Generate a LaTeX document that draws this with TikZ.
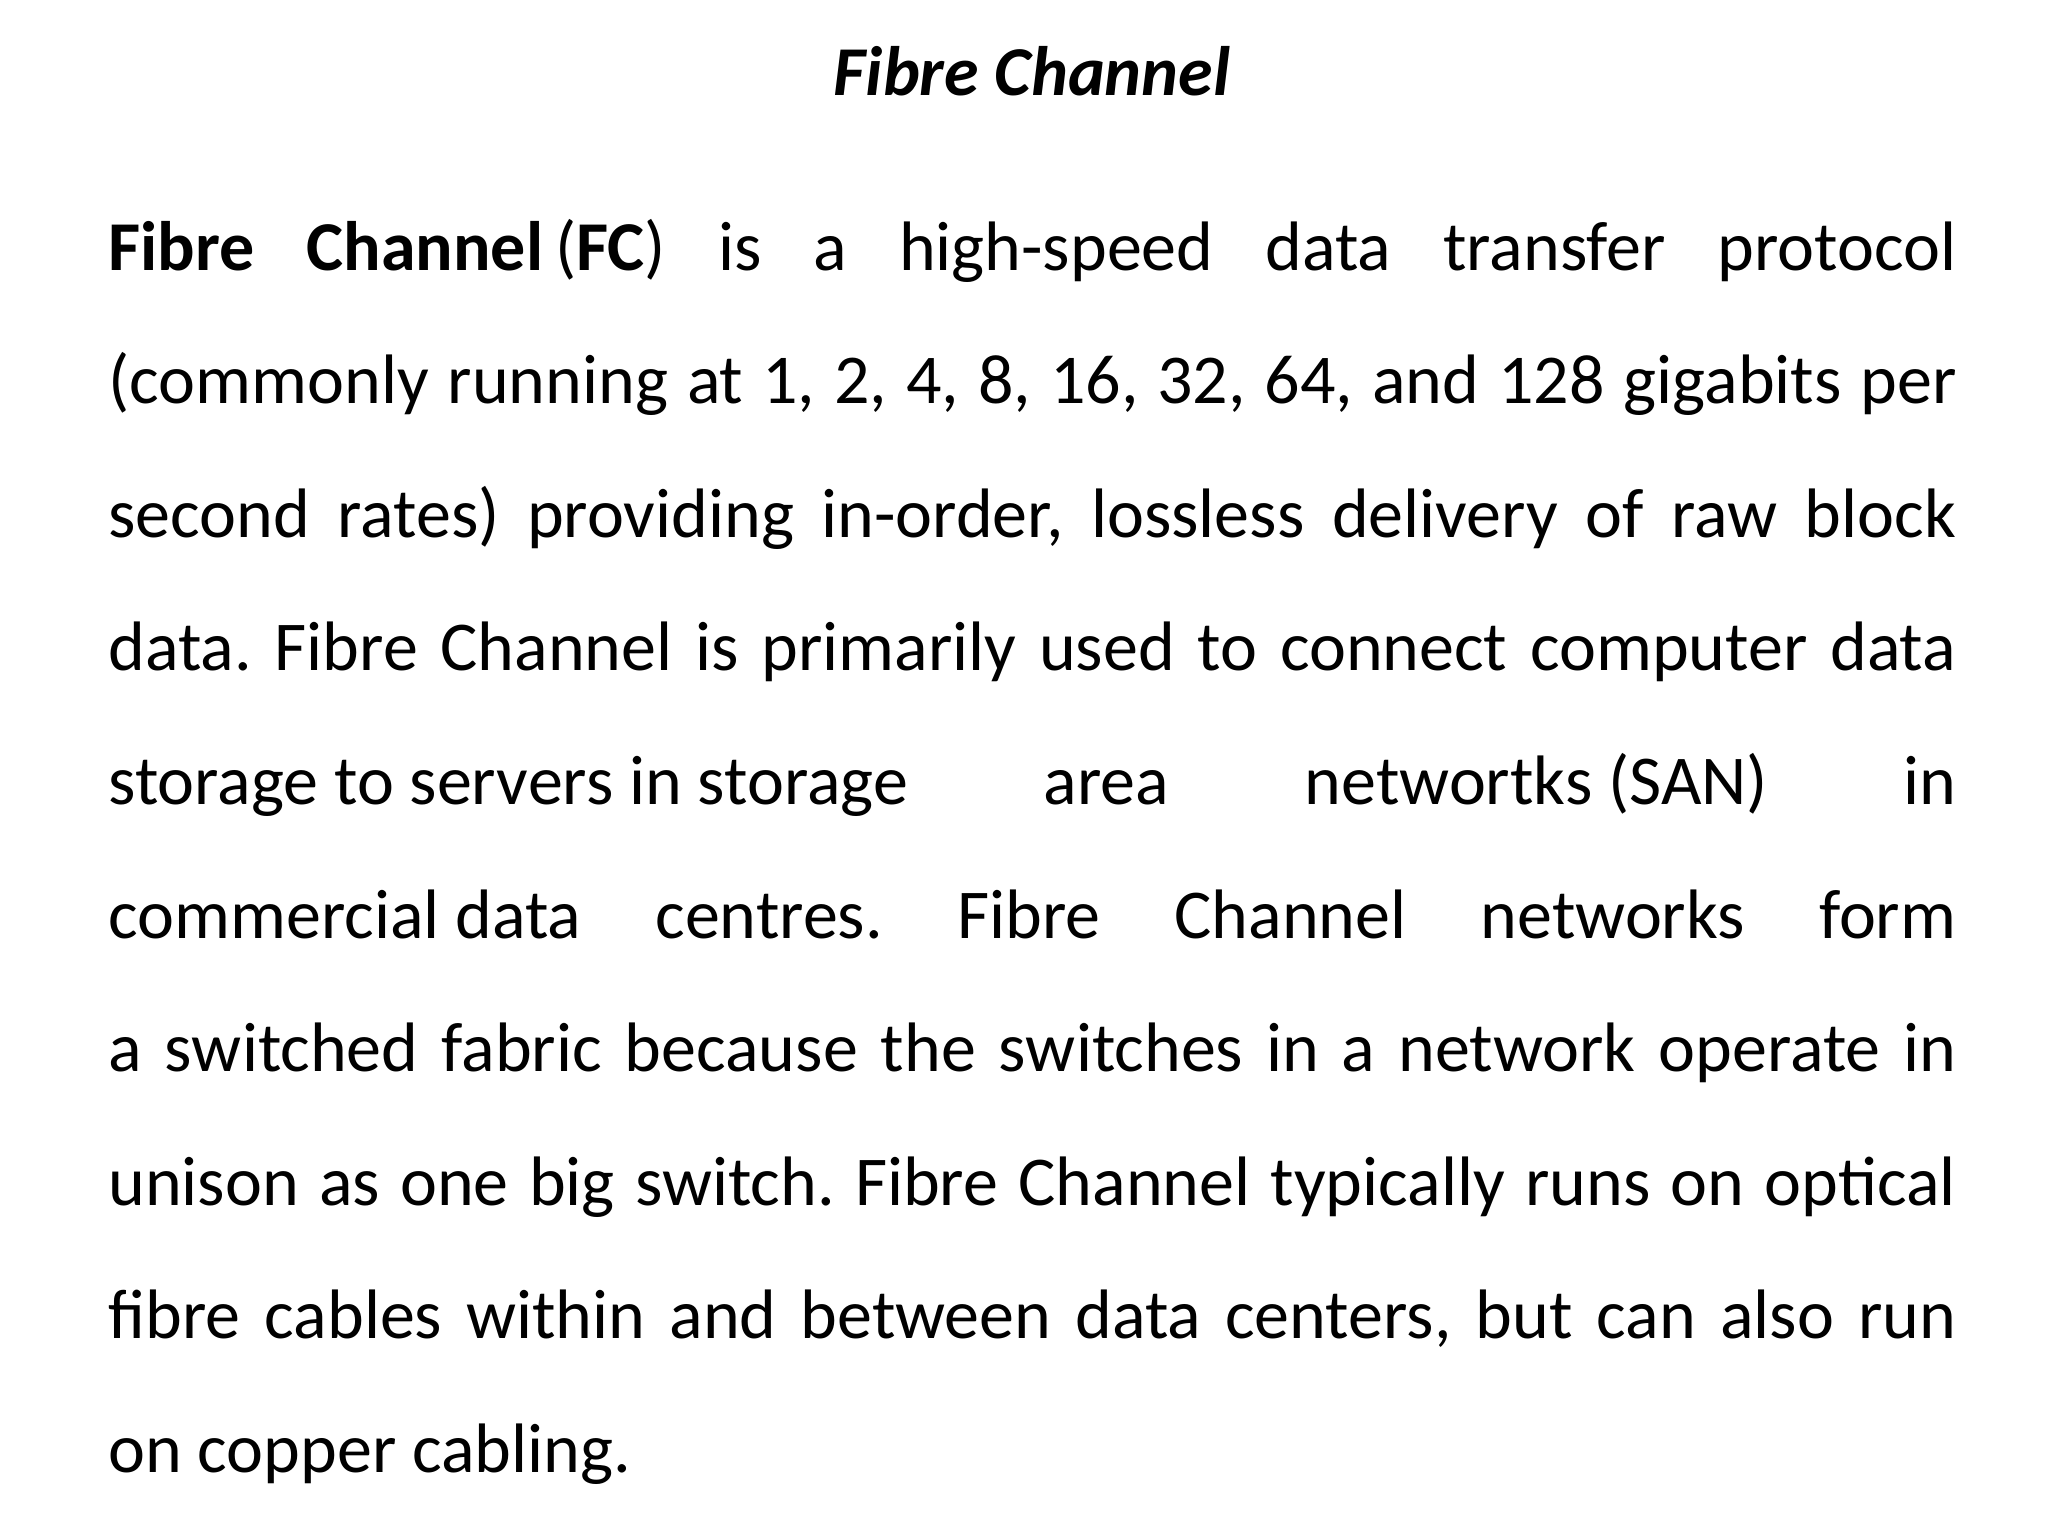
\documentclass[tikz,border=0pt]{standalone}
\usepackage{fontspec}
\setmainfont{Carlito}
\frenchspacing
\begin{document}
\begin{tikzpicture}[x=1pt,y=-1pt,
  ln/.style={anchor=base west,inner sep=0pt,font=\fontsize{35}{40}\selectfont}]
\useasboundingbox (0,0) rectangle (1024,768);
\node[anchor=base,inner sep=0pt,font=\fontsize{35}{40}\selectfont\bfseries\itshape] (t) at (516,48) {Fibre Channel};
\def\W{924pt}
\node[ln] (l1) at (54,135.0) {\makebox[\W][s]{\textbf{Fibre Channel}\,(\textbf{FC}) is a high-speed data transfer protocol}};
\node[ln] (l2) at (54,201.8) {\makebox[\W][s]{(commonly running at 1, 2, 4, 8, 16, 32, 64, and 128 gigabits per}};
\node[ln] (l3) at (54,268.6) {\makebox[\W][s]{second rates) providing in-order, lossless delivery of raw block}};
\node[ln] (l4) at (54,335.4) {\makebox[\W][s]{data. Fibre Channel is primarily used to connect computer data}};
\node[ln] (l5) at (54,402.2) {\makebox[\W][s]{storage to servers in storage\hfill area\hfill networtks (SAN)\hfill in}};
\node[ln] (l6) at (54,469.0) {\makebox[\W][s]{commercial data\hfill centres.\hfill Fibre\hfill Channel\hfill networks\hfill form}};
\node[ln] (l7) at (54,535.8) {\makebox[\W][s]{a switched fabric because the switches in a network operate in}};
\node[ln] (l8) at (54,602.6) {\makebox[\W][s]{unison as one big switch. Fibre Channel typically runs on optical}};
\node[ln] (l9) at (54,669.4) {\makebox[\W][s]{fibre cables within and between data centers, but can also run}};
\node[ln] (l10) at (54,736.2) {on copper cabling.};
\end{tikzpicture}
\end{document}
